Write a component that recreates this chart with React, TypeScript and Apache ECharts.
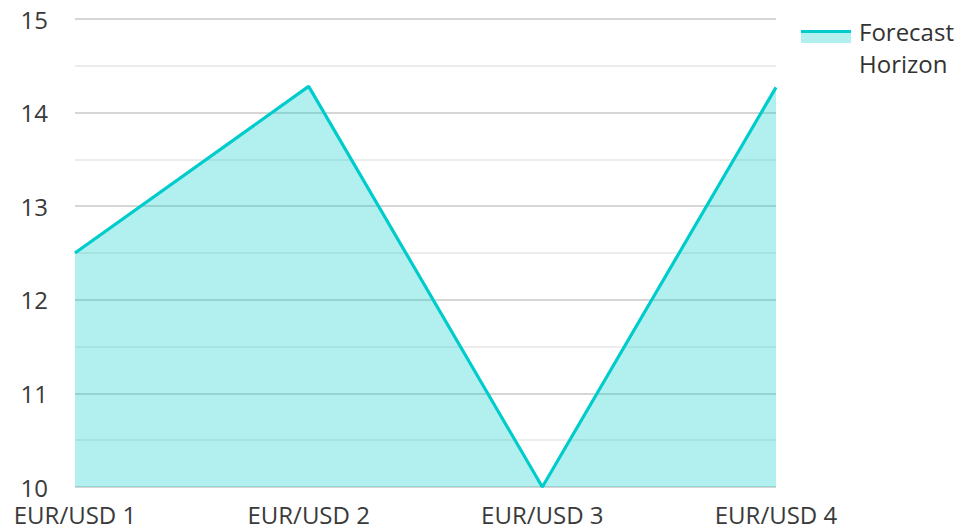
import React, { useEffect, useRef } from "react";
import * as echarts from "echarts";

const categories = ["EUR/USD 1", "EUR/USD 2", "EUR/USD 3", "EUR/USD 4"];
const forecastValues = [12.5, 14.28, 10, 14.27];
const seriesName = "Forecast\nHorizon";

export default function App() {
  const ref = useRef<HTMLDivElement>(null);
  useEffect(() => {
    if (!ref.current) return;
    const chart = echarts.init(ref.current, undefined, { renderer: "svg" });
    const font = "'Open Sans', 'Noto Sans', sans-serif";
    chart.setOption({
      animation: false,
      textStyle: { fontFamily: font },
      grid: { left: 75, right: 187, top: 19, bottom: 41, containLabel: false },
      legend: {
        show: true,
        left: 799,
        top: 10,
        itemWidth: 50,
        itemHeight: 2,
        icon: "rect",
        itemStyle: { opacity: 0 },
        textStyle: {
          fontSize: 24,
          color: "#333333",
          fontFamily: font,
          lineHeight: 32,
        },
        data: [seriesName],
      },
      xAxis: {
        type: "category",
        data: categories,
        boundaryGap: false,
        axisLine: { show: false },
        axisTick: { show: false },
        splitLine: { show: false },
        axisLabel: { fontSize: 24, color: "#3a3a3a", margin: 15, fontFamily: font },
      },
      yAxis: {
        type: "value",
        min: 10,
        max: 15,
        interval: 1,
        axisLine: { show: false },
        axisTick: { show: false },
        axisLabel: { fontSize: 24, color: "#3a3a3a", margin: 27, fontFamily: font },
        splitLine: { show: true, lineStyle: { color: "#c8c8c8", width: 1.5 } },
        minorTick: { show: false, splitNumber: 2 },
        minorSplitLine: { show: true, lineStyle: { color: "#e6e6e6", width: 1.5 } },
      },
      series: [
        {
          name: seriesName,
          type: "line",
          data: forecastValues,
          symbol: "none",
          lineStyle: { color: "#00CCCC", width: 3.2 },
          itemStyle: { color: "#00CCCC" },
          areaStyle: { color: "#00CCCC", opacity: 0.3, origin: "start" },
          z: 3,
        },
      ],
      graphic: [
        {
          type: "rect",
          shape: { x: 801, y: 30, width: 50, height: 13 },
          style: { fill: "#B2EFEF" },
          z: 100,
        },
        {
          type: "rect",
          shape: { x: 801, y: 30, width: 50, height: 3 },
          style: { fill: "#00CCCC" },
          z: 101,
        },
      ],
    });
    return () => chart.dispose();
  }, []);
  return <div ref={ref} style={{ width: 963, height: 528, position: "absolute", left: 0, top: 0 }} />;
}
